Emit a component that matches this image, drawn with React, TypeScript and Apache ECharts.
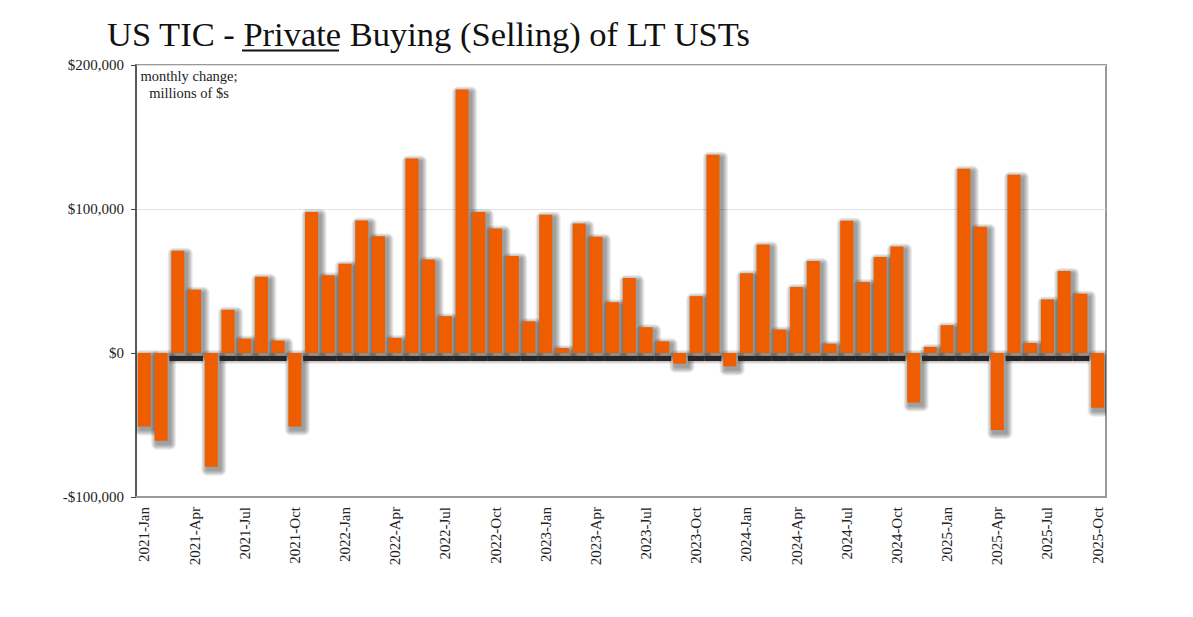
import React, { useEffect, useRef } from "react";
import * as echarts from "echarts";

const years = ["2021", "2022", "2023", "2024", "2025"];
const monthNames = ["Jan", "Feb", "Mar", "Apr", "May", "Jun", "Jul", "Aug", "Sep", "Oct", "Nov", "Dec"];
const categories: string[] = [];
years.forEach((y) => {
  monthNames.forEach((m) => {
    if (!(y === "2025" && (m === "Nov" || m === "Dec"))) categories.push(`${y}-${m}`);
  });
});

// monthly change, millions of $
const values2021 = [-51000, -61000, 71000, 44000, -79000, 30000, 10000, 53000, 8600, -51000, 98000, 54000];
const values2022 = [62000, 92000, 81000, 10500, 135000, 65000, 25600, 183000, 98000, 86500, 67400, 22000];
const values2023 = [96000, 3500, 90000, 80700, 35300, 52000, 17900, 8100, -7400, 39500, 137700, -9300];
const values2024 = [55300, 75300, 16300, 45800, 63900, 6500, 91800, 49300, 66700, 74000, -34400, 4200];
const values2025 = [19300, 127900, 87700, -53500, 123700, 7000, 37200, 57000, 41200, -38000];
const values = [...values2021, ...values2022, ...values2023, ...values2024, ...values2025];

const yTicks = [-100000, 0, 100000, 200000];
const titleText = "US TIC - Private Buying (Selling) of LT USTs";
const noteText = "monthly change;\nmillions of $s";

const SERIF = "'Liberation Serif', 'Times New Roman', serif";
const BAR_FRACTION = 0.78;

function fmtDollar(v: number) {
  const s = Math.abs(v).toLocaleString("en-US");
  return (v < 0 ? "-$" : "$") + s;
}

export default function App() {
  const ref = useRef<HTMLDivElement>(null);
  useEffect(() => {
    if (!ref.current) return;
    const chart = echarts.init(ref.current, null, { renderer: "svg" });

    const shadowItem = (params: any, api: any) => {
      const idx = api.value(0);
      const v = api.value(1);
      const base = api.coord([idx, 0]);
      const top = api.coord([idx, v]);
      const band = api.size([1, 0])[0];
      const w = band * BAR_FRACTION;
      const x = base[0] - w / 2;
      const y = Math.min(base[1], top[1]);
      const h = Math.abs(base[1] - top[1]);
      const dx = 2.5;
      const dy = 3;
      const children: any[] = [];
      [6, 5, 4, 3, 2, 1].forEach((k) => {
        children.push({
          type: "rect",
          shape: { x: x + dx - k, y: y + dy - k, width: w + 2 * k, height: h + 2 * k, r: k },
          style: { fill: "rgba(0,0,0,0.075)" },
        });
      });
      if (v > 0) {
        // dark blurred shadow band under the base of buying bars
        children.push({
          type: "rect",
          shape: { x: base[0] - band / 2, y: base[1] + 1.5, width: band, height: 9 },
          style: { fill: "rgba(0,0,0,0.15)" },
        });
        children.push({
          type: "rect",
          shape: { x: base[0] - band / 2, y: base[1] + 3, width: band, height: 5 },
          style: { fill: "#262626" },
        });
      }
      return { type: "group", children };
    };

    chart.setOption({
      animation: false,
      backgroundColor: "#ffffff",
      title: {
        text: titleText,
        left: 107,
        top: 16,
        padding: 0,
        textStyle: { fontFamily: SERIF, fontSize: 34.5, fontWeight: "normal", color: "#111" },
      },
      graphic: [
        {
          type: "line",
          shape: { x1: 242, y1: 50.5, x2: 339, y2: 50.5 },
          style: { stroke: "#111", lineWidth: 1.8 },
        },
        {
          type: "text",
          x: 189,
          y: 67,
          style: {
            text: noteText,
            font: `14.5px ${SERIF}`,
            fill: "#222",
            align: "center",
            verticalAlign: "top",
            lineHeight: 17,
          },
          z: 10,
        },
      ],
      grid: { left: 136, right: 87, top: 65, bottom: 120, show: true, borderColor: "#999", borderWidth: 2 },
      xAxis: {
        type: "category",
        data: categories,
        axisLine: { onZero: false, lineStyle: { color: "#999", width: 2 } },
        axisTick: { show: false },
        axisLabel: {
          interval: 2,
          rotate: 90,
          margin: 10,
          fontFamily: SERIF,
          fontSize: 15,
          color: "#222",
        },
        splitLine: { show: false },
      },
      yAxis: {
        type: "value",
        min: yTicks[0],
        max: yTicks[yTicks.length - 1],
        interval: 100000,
        axisLine: { show: true, lineStyle: { color: "#444", width: 1.5 } },
        axisTick: { show: true, length: 5, lineStyle: { color: "#444" } },
        axisLabel: {
          formatter: (v: number) => fmtDollar(v),
          fontFamily: SERIF,
          fontSize: 15,
          color: "#222",
          margin: 12,
        },
        splitLine: { show: true, lineStyle: { color: "#e2e2e2", width: 1 } },
      },
      series: [
        {
          type: "custom",
          silent: true,
          z: 1,
          clip: true,
          renderItem: shadowItem,
          data: values.map((v, i) => [i, v]),
        },
        {
          type: "bar",
          data: values,
          barCategoryGap: `${Math.round((1 - BAR_FRACTION) * 100)}%`,
          itemStyle: { color: "#EE5E00" },
          z: 3,
        },
      ],
    });
    return () => chart.dispose();
  }, []);
  return (
    <div
      ref={ref}
      style={{ position: "fixed", left: 0, top: 0, width: 1193, height: 617 }}
    />
  );
}
